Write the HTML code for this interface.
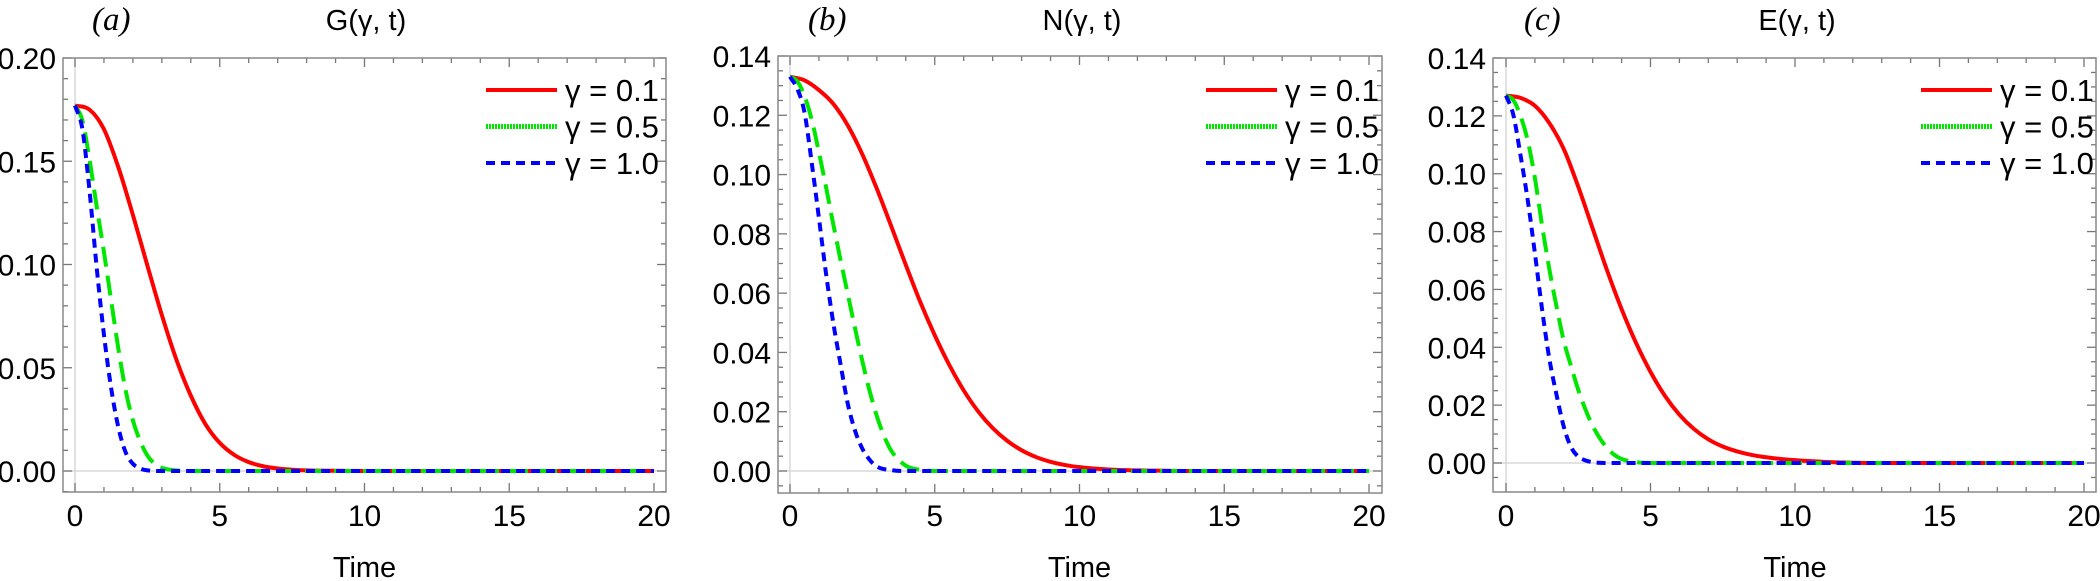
<!DOCTYPE html>
<html><head><meta charset="utf-8"><style>
html,body{margin:0;padding:0;background:#fff;}
svg{display:block;font-family:"Liberation Sans",sans-serif;}
</style></head><body>
<svg id="fig" width="2100" height="581" viewBox="0 0 2100 581"></svg>
<script>
// ---- data ----
const seriesLabels = ["γ = 0.1", "γ = 0.5", "γ = 1.0"];
const xTicks = [0, 5, 10, 15, 20];
const panelLetters = ["(a)", "(b)", "(c)"];
const panelTitles = ["G(γ, t)", "N(γ, t)", "E(γ, t)"];
const yTicksA = ["0.00", "0.05", "0.10", "0.15", "0.20"];
const yTicksB = ["0.00", "0.02", "0.04", "0.06", "0.08", "0.10", "0.12", "0.14"];
const yTicksC = ["0.00", "0.02", "0.04", "0.06", "0.08", "0.10", "0.12", "0.14"];

const tA1 = [0,0.5,1,1.5,2,2.5,3,3.5,4,4.5,5,5.5,6,6.5,7,7.5,8,9,10,20];
const vA1 = [0.177,0.175,0.1655,0.147,0.124,0.0995,0.0755,0.054,0.0365,0.0228,0.0136,0.0078,0.0043,0.0023,0.0012,0.0006,0.0003,0.0001,0,0];
const tA2 = [0,0.25,0.5,0.75,1,1.25,1.5,1.75,2,2.25,2.5,2.75,3,3.5,4,20];
const vA2 = [0.177,0.17,0.151,0.128,0.106,0.0825,0.059,0.039,0.0245,0.0145,0.0075,0.0035,0.0015,0.0003,0,0];
const tA3 = [0,0.25,0.5,0.75,1,1.25,1.5,1.75,2,2.25,2.5,3,20];
const vA3 = [0.177,0.166,0.136,0.0984,0.066,0.04,0.021,0.009,0.0035,0.0012,0.0003,0,0];

const tB1 = [0,0.5,1,1.5,2,2.5,3,3.5,4,4.5,5,5.5,6,6.5,7,7.5,8,8.5,9,9.5,10,11,12,13,14,20];
const vB1 = [0.133,0.1318,0.1285,0.1238,0.1165,0.1068,0.0952,0.0825,0.0695,0.057,0.0458,0.0358,0.0272,0.0201,0.0145,0.0102,0.007,0.0047,0.0031,0.002,0.0013,0.0005,0.0002,0.0001,0,0];
const tB2 = [0,0.25,0.5,0.75,1,1.25,1.5,1.75,2,2.25,2.5,2.75,3,3.25,3.5,4,4.5,5,20];
const vB2 = [0.133,0.1315,0.1265,0.1185,0.1075,0.0955,0.083,0.071,0.0595,0.048,0.037,0.027,0.0185,0.0118,0.0068,0.0018,0.0004,0,0];
const tB3 = [0,0.25,0.5,0.75,1,1.25,1.5,1.75,2,2.25,2.5,2.75,3,3.5,4,20];
const vB3 = [0.133,0.129,0.121,0.104,0.0853,0.0662,0.0497,0.0358,0.0225,0.0135,0.0075,0.0038,0.0015,0.0003,0,0];

const tC1 = [0,0.5,1,1.5,2,2.5,3,3.5,4,4.5,5,5.5,6,6.5,7,7.5,8,8.5,9,9.5,10,11,12,13,20];
const vC1 = [0.127,0.1262,0.1235,0.1175,0.1085,0.0955,0.081,0.0665,0.0532,0.0415,0.0315,0.0232,0.0167,0.0118,0.0082,0.0057,0.004,0.0028,0.002,0.0014,0.001,0.0004,0.0001,0,0];
const tC2 = [0,0.25,0.5,0.75,1,1.25,1.5,1.75,2,2.25,2.5,2.75,3,3.25,3.5,3.75,4,4.5,5,20];
const vC2 = [0.127,0.1255,0.12,0.1115,0.0985,0.082,0.067,0.054,0.0422,0.0335,0.0253,0.0185,0.0128,0.0085,0.0052,0.0028,0.0014,0.0003,0,0];
const tC3 = [0,0.25,0.5,0.75,1,1.25,1.5,1.75,2,2.25,2.5,2.75,3,3.5,20];
const vC3 = [0.127,0.1205,0.1065,0.091,0.0725,0.053,0.036,0.0235,0.0125,0.0055,0.0022,0.0009,0.0003,0,0];

// ---- layout ----
const panels = [
  {L:63, R:666, T:58, B:492, x0:75, x20:654, y0:471, yTop:58, yMax:0.20, major:0.05, minor:0.01, yt:yTicksA, series:[[tA1,vA1],[tA2,vA2],[tA3,vA3]], letterX:92, titleX:366, leg:{lx:486, ty:90}},
  {L:778, R:1382, T:56, B:493, x0:790, x20:1369, y0:471, yTop:56, yMax:0.14, major:0.02, minor:0.005, yt:yTicksB, series:[[tB1,vB1],[tB2,vB2],[tB3,vB3]], letterX:808, titleX:1082, leg:{lx:1206, ty:90}},
  {L:1493, R:2096, T:58, B:492, x0:1506, x20:2084, y0:463, yTop:58, yMax:0.14, major:0.02, minor:0.005, yt:yTicksC, series:[[tC1,vC1],[tC2,vC2],[tC3,vC3]], letterX:1524, titleX:1797, leg:{lx:1921, ty:90}}
];
const colors = ["#ff0000", "#00e600", "#0000ff"];
const dashes = ["", "20 9", "9 6"];
const NS = "http://www.w3.org/2000/svg";
const svg = document.getElementById("fig");
function mk(tag, attrs, parent){ const e=document.createElementNS(NS,tag); for(const k in attrs) e.setAttribute(k,attrs[k]); (parent||svg).appendChild(e); return e; }

function monotone(xs, ys){
  const n=xs.length, d=[], m=[];
  for(let i=0;i<n-1;i++) d.push((ys[i+1]-ys[i])/(xs[i+1]-xs[i]));
  m[0]=d[0]; m[n-1]=d[n-2];
  for(let i=1;i<n-1;i++){ m[i]=(d[i-1]*d[i]<=0)?0:(d[i-1]+d[i])/2; }
  for(let i=0;i<n-1;i++){ if(d[i]===0){m[i]=0;m[i+1]=0;continue;} const a=m[i]/d[i], b=m[i+1]/d[i], s=a*a+b*b; if(s>9){const t=3/Math.sqrt(s); m[i]=t*a*d[i]; m[i+1]=t*b*d[i];} }
  let p="M"+xs[0].toFixed(2)+","+ys[0].toFixed(2);
  for(let i=0;i<n-1;i++){ const h=xs[i+1]-xs[i];
    p+=" C"+(xs[i]+h/3).toFixed(2)+","+(ys[i]+m[i]*h/3).toFixed(2)+" "+(xs[i+1]-h/3).toFixed(2)+","+(ys[i+1]-m[i+1]*h/3).toFixed(2)+" "+xs[i+1].toFixed(2)+","+ys[i+1].toFixed(2); }
  return p;
}

panels.forEach((P, pi) => {
  const g = mk("g", {});
  
  
  const sx = t => P.x0 + (P.x20 - P.x0) * t / 20;
  const sy = v => P.y0 - (P.y0 - P.yTop) * v / P.yMax;
  mk("line", {x1:P.L, x2:P.R, y1:sy(0), y2:sy(0), stroke:"#d8d8d8", "stroke-width":1.5}, g);
  mk("line", {x1:sx(0), x2:sx(0), y1:P.T, y2:P.B, stroke:"#d8d8d8", "stroke-width":1.5}, g);
  for(let t=0;t<=20;t+=1){ const x=sx(t), len=(t%5===0)?9:5;
    mk("line",{x1:x,x2:x,y1:P.B,y2:P.B-len,stroke:"#777","stroke-width":1.3},g);
    mk("line",{x1:x,x2:x,y1:P.T,y2:P.T+len,stroke:"#777","stroke-width":1.3},g); }
  xTicks.forEach(t => { const tx = mk("text",{x:sx(t), y:526, "font-size":30, "text-anchor":"middle", fill:"#000"}, g); tx.textContent = t;
      });
  const nMinor = Math.round(P.yMax / P.minor), per = Math.round(P.major / P.minor);
  for(let i=-1;i<=nMinor;i++){ const v=i*P.minor, y=sy(v); if(y>P.B) continue; const len=(i%per===0)?9:5;
    mk("line",{x1:P.L,x2:P.L+len,y1:y,y2:y,stroke:"#777","stroke-width":1.3},g);
    mk("line",{x1:P.R,x2:P.R-len,y1:y,y2:y,stroke:"#777","stroke-width":1.3},g); }
  P.yt.forEach(s => { const tx = mk("text",{x:P.L-7, y:sy(parseFloat(s))+11, "font-size":30, "text-anchor":"end", fill:"#000"}, g); tx.textContent = s;
      });
  const fr = mk("rect",{x:P.L, y:P.T, width:P.R-P.L, height:P.B-P.T, fill:"none", stroke:"#888", "stroke-width":1.5}, g);
   
  P.series.forEach((s, si) => {
    const xs = s[0].map(sx), ys = s[1].map(sy);
    const path = mk("path",{d:monotone(xs, ys), fill:"none", stroke:colors[si], "stroke-width":4}, g);
    if(dashes[si]) path.setAttribute("stroke-dasharray", dashes[si]);
    
    
  });
  seriesLabels.forEach((lab, si) => {
    const y = P.leg.ty + si * 36.5;
    const ln = mk("line",{x1:P.leg.lx, x2:P.leg.lx+71, y1:y, y2:y, stroke:colors[si], "stroke-width":si===1?5:4}, g);
    if(si===1) ln.setAttribute("stroke-dasharray","2 1");
    if(si===2) ln.setAttribute("stroke-dasharray","9 6");
     
    const tx = mk("text",{x:P.leg.lx+79, y:y+11, "font-size":31, fill:"#000"}, g); tx.textContent = lab;
     
  });
  const le = mk("text",{x:P.letterX, y:30, "font-size":33, "font-style":"italic", "font-family":"Liberation Serif, serif", fill:"#000"}, g); le.textContent = panelLetters[pi];
   
  const ti = mk("text",{x:P.titleX, y:30, "font-size":29, "text-anchor":"middle", fill:"#000"}, g); ti.textContent = panelTitles[pi];
   
  const xl = mk("text",{x:(P.x0+P.x20)/2, y:577, "font-size":29, "text-anchor":"middle", fill:"#000"}, g); xl.textContent = "Time";
   
});
</script>
</body></html>
